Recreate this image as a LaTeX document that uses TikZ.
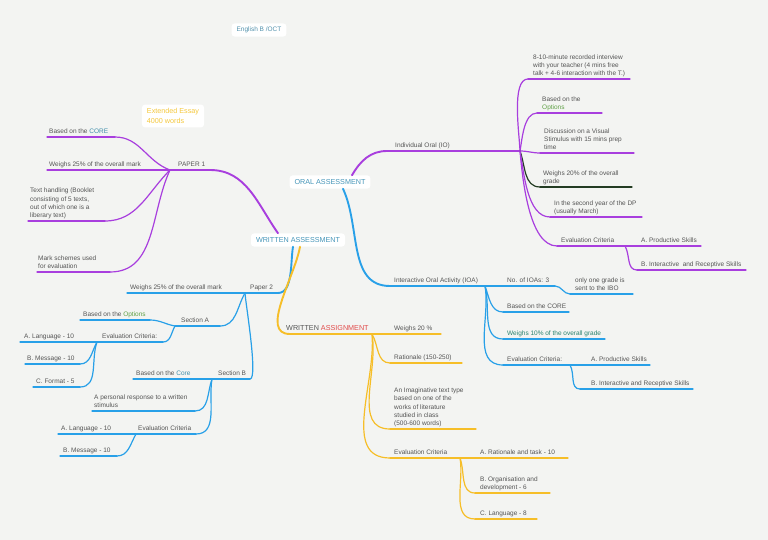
\documentclass[tikz,border=0pt]{standalone}
\usepackage{fontspec}
\setmainfont{Liberation Sans}
\usetikzlibrary{positioning,calc}
\usepackage{xcolor}
\definecolor{bgc}{RGB}{243,244,242}
\definecolor{mmpurple}{RGB}{168,62,222}
\definecolor{mmblue}{RGB}{40,160,232}
\definecolor{mmyellow}{RGB}{246,190,40}
\definecolor{txtgray}{RGB}{85,85,85}
\definecolor{tealc}{RGB}{70,150,185}
\definecolor{corec}{RGB}{60,140,170}
\definecolor{optc}{RGB}{95,160,70}
\definecolor{tealgreen}{RGB}{40,130,110}
\definecolor{redc}{RGB}{225,75,75}
\definecolor{eec}{RGB}{245,200,60}
\definecolor{darkline}{RGB}{35,60,35}

% topic = text sitting on its own underline
\newcommand{\mmtopic}[7]{%
  \coordinate (#2-l) at (#3,#5);
  \coordinate (#2-r) at (#4,#5);
  \node[topic] (#2) at (#6,#5-3) {#7};
  \draw[#1] (#2-l) -- (#2-r);
}

\begin{document}
\begin{tikzpicture}[x=1pt,y=-1pt]
\tikzstyle{topic} = [anchor=south west, inner sep=0pt, text depth=0pt, align=left, text=txtgray, font=\fontsize{6.5}{8.3}\selectfont];
\tikzstyle{central} = [rectangle, rounded corners=3pt, fill=white, inner xsep=5pt, inner ysep=4pt, text=tealc, font=\fontsize{7.2}{9}\selectfont];
\tikzstyle{pline} = [draw=mmpurple, line width=1.2pt, line cap=round];
\tikzstyle{bline} = [draw=mmblue, line width=1.2pt, line cap=round];
\tikzstyle{yline} = [draw=mmyellow, line width=1.2pt, line cap=round];
\tikzstyle{main} = [line width=1.9pt];

\fill[bgc] (0,0) rectangle (768,540);
\useasboundingbox (0,0) rectangle (768,540);

\node (title) [central, text=tealc!80!gray, font=\fontsize{6.5}{8}\selectfont, inner ysep=3.5pt] at (259,30) {English B /OCT};
\node (ee) [central, text=eec, align=left, font=\fontsize{7.2}{9.5}\selectfont] at (173,116) {Extended Essay\\4000 words};

\node (oa) [central] at (330,182) {ORAL ASSESSMENT};
\node (wa) [central] at (298,240) {WRITTEN ASSESSMENT};

% paper 1
\mmtopic{pline}{p1}{170}{210}{170}{178}{PAPER 1}
\mmtopic{pline}{p1core}{47}{115}{137}{49}{Based on the \textcolor{corec}{CORE}}
\mmtopic{pline}{p1w}{47}{170}{170}{49}{Weighs 25\% of the overall mark}
\mmtopic{pline}{p1th}{28}{105}{221}{30}{Text handling (Booklet\\consisting of 5 texts,\\out of which one is a\\liberary text)}
\mmtopic{pline}{p1ms}{37}{110}{272}{38}{Mark schemes used\\for evaluation}

% paper 2
\mmtopic{bline}{p2}{245}{278}{293}{250}{Paper 2}
\mmtopic{bline}{p2w}{127}{245}{293}{130}{Weighs 25\% of the overall mark}
\mmtopic{bline}{sa}{175}{220}{326}{181}{Section A}
\mmtopic{bline}{saopt}{80}{150}{320}{83}{Based on the \textcolor{optc}{Options}}
\mmtopic{bline}{saev}{97}{163}{342}{102}{Evaluation Criteria:}
\mmtopic{bline}{saa}{20}{97}{342}{24}{A. Language - 10}
\mmtopic{bline}{sab}{25}{80}{364}{27}{B. Message - 10}
\mmtopic{bline}{sac}{33}{80}{387}{36}{C. Format - 5}
\mmtopic{bline}{sb}{212}{250}{379}{218}{Section B}
\mmtopic{bline}{sbcore}{133}{212}{379}{136}{Based on the \textcolor{corec}{Core}}
\mmtopic{bline}{sbpr}{92}{195}{411}{94}{A personal response to a written\\stimulus}
\mmtopic{bline}{sbev}{136}{196}{434}{138}{Evaluation Criteria}
\mmtopic{bline}{sba}{58}{136}{434}{61}{A. Language - 10}
\mmtopic{bline}{sbb}{60}{117}{456}{63}{B. Message - 10}

% individual oral
\mmtopic{pline}{io}{387}{520}{151}{395}{Individual Oral (IO)}
\mmtopic{pline}{io1}{528}{630}{79}{533}{8-10-minute recorded interview\\with your teacher (4 mins free\\talk + 4-6 interaction with the T.)}
\mmtopic{pline}{io2}{537}{602}{113}{542}{Based on the\\\textcolor{optc}{Options}}
\mmtopic{pline}{io3}{540}{634}{153}{544}{Discussion on a Visual\\Stimulus with 15 mins prep\\time}
\mmtopic{pline,draw=darkline}{io4}{540}{632}{187}{543}{Weighs 20\% of the overall\\grade}
\mmtopic{pline}{io5}{550}{642}{217}{554}{In the second year of the DP\\(usually March)}
\mmtopic{pline}{io6}{557}{625}{246}{561}{Evaluation Criteria}
\mmtopic{pline}{io6a}{625}{701}{246}{641}{A. Productive Skills}
\mmtopic{pline}{io6b}{637}{746}{270}{641}{B. Interactive\ \ and Receptive Skills}

% interactive oral activity
\mmtopic{bline}{ioa}{390}{485}{286}{394}{Interactive Oral Activity (IOA)}
\mmtopic{bline}{ioa1}{485}{555}{286}{507}{No. of IOAs: 3}
\mmtopic{bline}{ioa1a}{570}{633}{294}{575}{only one grade is\\sent to the IBO}
\mmtopic{bline}{ioa2}{503}{569}{312}{507}{Based on the CORE}
\mmtopic{bline}{ioa3}{503}{605}{339}{507}{\textcolor{tealgreen}{Weighs 10\% of the overall grade}}
\mmtopic{bline}{ioa4}{503}{570}{365}{507}{Evaluation Criteria:}
\mmtopic{bline}{ioa4a}{570}{650}{365}{591}{A. Productive Skills}
\mmtopic{bline}{ioa4b}{580}{693}{389}{591}{B. Interactive and Receptive Skills}

% written assignment
\mmtopic{yline}{wasg}{290}{372}{334}{286}{\fontsize{7.2}{9}\selectfont WRITTEN \textcolor{redc}{ASSIGNMENT}}
\mmtopic{yline}{wasg1}{372}{441}{334}{394}{Weighs 20 \%}
\mmtopic{yline}{wasg2}{390}{462}{363}{394}{Rationale (150-250)}
\mmtopic{yline}{wasg3}{390}{476}{429}{394}{An Imaginative text type\\based on one of the\\works of literature\\studied in class\\(500-600 words)}
\mmtopic{yline}{wasg4}{390}{460}{458}{394}{Evaluation Criteria}
\mmtopic{yline}{wasg4a}{460}{568}{458}{480}{A. Rationale and task - 10}
\mmtopic{yline}{wasg4b}{475}{550}{493}{480}{B. Organisation and\\development - 6}
\mmtopic{yline}{wasg4c}{475}{537}{519}{480}{C. Language - 8}

% main branches
\draw[pline, main] ([xshift=-20]wa.north) to[out=125, in=0] (p1-r);
\draw[bline, main] ([xshift=-5]wa.south) to[out=-100, in=0, looseness=0.8] (p2-r);
\draw[yline, main] ([xshift=2]wa.south) to[out=-100, in=180, looseness=0.9] (wasg-l);
\draw[pline, main] ([xshift=22]oa.north) to[out=60, in=180] (io-l);
\draw[bline, main] ([xshift=13]oa.south) to[out=-65, in=180] (ioa-l);

% paper 1 links
\draw[pline] (p1-l) to[out=160, in=0] (p1core-r);
\draw[pline] (p1-l) to[out=225, in=0] (p1th-r);
\draw[pline] (p1-l) to[out=245, in=0] (p1ms-r);

% paper 2 links
\draw[bline] (p2-l) to[out=-120, in=0] (sa-r);
\draw[bline] (p2-l) to[out=-88, in=0, looseness=0.25] (sb-r);
\draw[bline] (sa-l) to[out=170, in=0] (saopt-r);
\draw[bline] (sa-l) to[out=-120, in=0] (saev-r);
\draw[bline] (saev-l) to[out=-120, in=0] (sab-r);
\draw[bline] (saev-l) to[out=-110, in=0] (sac-r);
\draw[bline] (sb-l) to[out=-110, in=0] (sbpr-r);
\draw[bline] (sb-l) to[out=-100, in=0] (sbev-r);
\draw[bline] (sbev-l) to[out=-120, in=0] (sbb-r);

% individual oral links
\draw[pline] (io-r) to[out=92, in=180, looseness=0.6] (io1-l);
\draw[pline] (io-r) to[out=80, in=180, looseness=0.8] (io2-l);
\draw[pline] (io-r) to[out=0, in=180] (io3-l);
\draw[pline, draw=darkline] (io-r) to[out=-70, in=180] (io4-l);
\draw[pline] (io-r) to[out=-80, in=180, looseness=0.8] (io5-l);
\draw[pline] (io-r) to[out=-85, in=180, looseness=0.7] (io6-l);
\draw[pline] (io6-r) to[out=-60, in=180] (io6b-l);

% interactive oral links
\draw[bline] (ioa1-r) to[out=0, in=180] (ioa1a-l);
\draw[bline] (ioa-r) to[out=-70, in=180] (ioa2-l);
\draw[bline] (ioa-r) to[out=-75, in=180] (ioa3-l);
\draw[bline] (ioa-r) to[out=-80, in=180] (ioa4-l);
\draw[bline] (ioa4-r) to[out=-60, in=180] (ioa4b-l);

% written assignment links
\draw[yline] (wasg-r) to[out=-60, in=180] (wasg2-l);
\draw[yline] (wasg-r) to[out=-80, in=180] (wasg3-l);
\draw[yline] (wasg-r) to[out=-85, in=180] (wasg4-l);
\draw[yline] (wasg4-r) to[out=-70, in=180] (wasg4b-l);
\draw[yline] (wasg4-r) to[out=-80, in=180] (wasg4c-l);
\end{tikzpicture}
\end{document}
